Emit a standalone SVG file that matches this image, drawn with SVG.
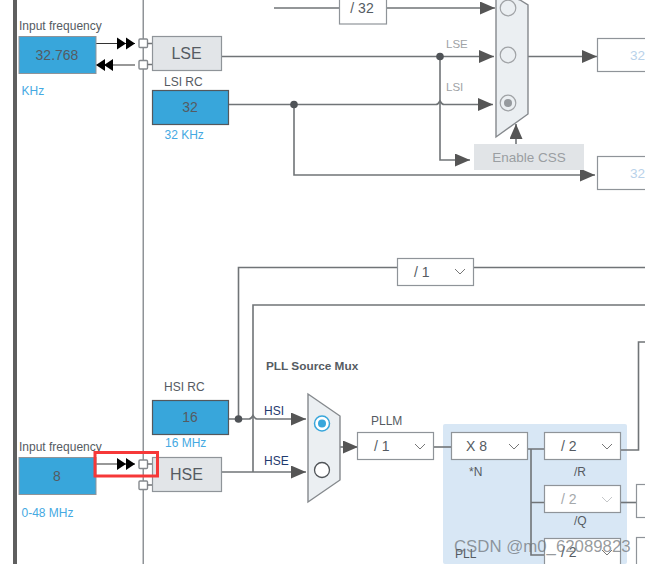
<svg xmlns="http://www.w3.org/2000/svg" width="645" height="564" viewBox="0 0 645 564">
<style>
text{font-family:"Liberation Sans",Arial,sans-serif;font-size:12px;fill:#555b62}
.m{text-anchor:middle}
.blue{fill:#38a6db;stroke:#8f9499;stroke-width:1}
.blued{fill:#38a6db;stroke:#54585c;stroke-width:1.2}
.gray{fill:#e2e5e8;stroke:#8f9499;stroke-width:1.2}
.box{fill:#fff;stroke:#8f9499;stroke-width:1.2}
.c{fill:none;stroke:#707477;stroke-width:1.6}
.k{fill:none;stroke:#333;stroke-width:1.1}
.pin{fill:#fff;stroke:#85898d;stroke-width:1.4}
.mux{fill:#ebeff2;stroke:#85898d;stroke-width:1.4}
.chev{fill:none;stroke:#777;stroke-width:1}
.lab{fill:#a0a3a6;font-size:11.5px}
.hz{fill:#45a9e2;font-size:12px}
.dot{fill:#4f5357}
.fade{fill:#b9d2ea;font-size:13.5px}
.val{font-size:14px}
.in{font-size:12px}
</style>
<defs>
<marker id="a" markerUnits="userSpaceOnUse" markerWidth="16" markerHeight="13" refX="15" refY="6.500" orient="auto"><path d="M0 0L15 6.500L0 13Z" fill="#555"/></marker>
</defs>
<rect width="645" height="564" fill="#fff"/>
<rect x="13" y="0" width="4" height="564" fill="#5f5f5f"/>
<rect x="142.500" y="0" width="1.500" height="564" fill="#8f9397"/>
<rect id="pll-bg" x="443" y="424" width="184" height="140" rx="2" fill="#d8e7f5"/>
<g id="connectors">
<path class="c" d="M274 8H339M387 8H495" marker-end="url(#a)"/>
<path class="c" d="M221 56.500H494" marker-end="url(#a)"/>
<path class="c" d="M228 104.500H436Q438 104.500 440 101Q442 104.500 444 104.500H493" marker-end="url(#a)"/>
<path class="c" d="M440 56.500V160H470" marker-end="url(#a)"/>
<path class="c" d="M294 104.500V175H595" marker-end="url(#a)"/>
<path class="c" d="M528 56.500H597" marker-end="url(#a)"/>
<path class="c" d="M516 144V124" marker-end="url(#a)"/>
<path class="c" d="M238.500 419V267.500H397M473 267.500H645"/>
<path class="c" d="M253 472V305H645"/>
<path class="c" d="M228 419H249Q251 419 253 415.500Q255 419 257 419H306" marker-end="url(#a)"/>
<path class="c" d="M221 472H306" marker-end="url(#a)"/>
<path class="c" d="M340 447H358" marker-end="url(#a)"/>
<path class="c" d="M433 447H451"/>
<path class="c" d="M528 449H544M531 449V555H544M531 502.500H544"/>
<path class="c" d="M621 450H638.500V342H645"/>
<path class="c" d="M621 502.500H636"/>
<circle class="dot" cx="440" cy="56.500" r="3.800"/>
<circle class="dot" cx="294" cy="104.500" r="3.800"/>
<circle class="dot" cx="238.500" cy="419" r="3.800"/>
<path class="k" d="M96 43.500H135"/><path d="M117 37.500L126 43.500L117 49.500ZM126 37.500L135 43.500L126 49.500Z" fill="#000"/>
<path class="k" d="M135 65H96"/><path d="M105 59L96 65L105 71ZM113 59L104 65L113 71Z" fill="#000"/>
<path class="k" d="M96 464H135"/><path d="M117 458L126 464L117 470ZM126 458L135 464L126 470Z" fill="#000"/>
</g>
<g id="lse-input"><text x="19" y="30" class="in">Input frequency</text><rect class="blue" x="19" y="36.500" width="77" height="37"/><text class="m val" x="57" y="60">32.768</text><text x="21.500" y="95" class="hz">KHz</text></g>
<g id="lse"><rect class="gray" x="152.500" y="36.500" width="69" height="34"/><text class="m" x="186.500" y="59" style="font-size:16px">LSE</text></g>
<rect class="pin" x="139" y="39" width="8.500" height="8.500" rx="1"/><rect class="pin" x="139" y="60.500" width="8.500" height="8.500" rx="1"/>
<path class="c" d="M147.500 43.500H152M147.500 64.500H152"/>
<g id="lsi"><text x="164" y="86">LSI RC</text><rect class="blued" x="152.500" y="90.500" width="76" height="34"/><text class="m val" x="190" y="112">32</text><text x="164.500" y="139" class="hz">32 KHz</text></g>
<g id="div32"><rect class="box" x="339.500" y="-1" width="47" height="25"/><text class="m val" x="362" y="13">/ 32</text></g>
<text class="lab" x="446" y="48">LSE</text><text class="lab" x="446" y="91">LSI</text>
<g id="rtc-mux"><path class="mux" d="M496 -8L520 0L528 5V114L496 137Z"/><circle cx="508" cy="8" r="7.800" fill="none" stroke="#a0a3a6" stroke-width="1.200"/><circle cx="508" cy="55" r="7.800" fill="none" stroke="#a0a3a6" stroke-width="1.200"/><circle cx="508" cy="103" r="7.800" fill="none" stroke="#a0a3a6" stroke-width="1.200"/><circle cx="508" cy="103" r="4" fill="#969a9e"/></g>
<g id="css"><rect x="474" y="144" width="110" height="26" fill="#e1e4e7"/><text class="m" x="529" y="162" style="fill:#9a9ea2;font-size:13.500px">Enable CSS</text></g>
<g id="out1"><rect class="box" x="597.500" y="38.500" width="50" height="33"/><text class="fade" x="630" y="60">32</text></g>
<g id="out2"><rect class="box" x="597.500" y="156.500" width="50" height="33"/><text class="fade" x="630" y="178">32</text></g>
<g id="div1"><rect class="box" x="397.500" y="258.500" width="76" height="27"/><text x="414" y="277" class="val">/ 1</text><path class="chev" d="M455 269L460 274L465 269"/></g>
<g id="hsi"><text x="164" y="391">HSI RC</text><rect class="blued" x="152.500" y="400.500" width="76" height="34"/><text class="m val" x="190" y="422">16</text><text x="165" y="447" class="hz">16 MHz</text></g>
<g id="hse-input"><text x="19" y="451" class="in">Input frequency</text><rect class="blue" x="19" y="457.500" width="77" height="37"/><text class="m val" x="57" y="481">8</text><text x="21.500" y="517" class="hz">0-48 MHz</text></g>
<g id="hse"><rect class="gray" x="152.500" y="457.500" width="69" height="34"/><text class="m" x="186.500" y="480" style="font-size:16px">HSE</text></g>
<rect class="pin" x="139" y="460" width="8.500" height="8.500" rx="1"/><rect class="pin" x="139" y="481" width="8.500" height="8.500" rx="1"/>
<path class="c" d="M147.500 464H152M147.500 485H152"/>
<text x="266" y="370" style="font-size:11.800px;font-weight:bold">PLL Source Mux</text>
<text x="264" y="415" style="fill:#1f3a6e">HSI</text><text x="264" y="465" style="fill:#1f3a6e">HSE</text>
<g id="pll-mux"><path class="mux" d="M308 394L340 416V480L308 502Z"/><circle cx="322" cy="423.500" r="7.500" fill="#fff" stroke="#38a6db" stroke-width="1.500"/><circle cx="322" cy="423.500" r="4" fill="#38a6db"/><circle cx="322" cy="470" r="7.500" fill="#fff" stroke="#4f5357" stroke-width="1.300"/></g>
<g id="pllm"><text x="371" y="425">PLLM</text><rect class="box" x="357.500" y="432.500" width="76" height="27"/><text x="374" y="451" class="val">/ 1</text><path class="chev" d="M415 444L420 449L425 444"/></g>
<g id="muln"><rect class="box" x="451.500" y="432.500" width="76" height="27"/><text x="466" y="451" class="val">X 8</text><path class="chev" d="M509 444L514 449L519 444"/><text x="469" y="476">*N</text></g>
<g id="divr"><rect class="box" x="544.500" y="432.500" width="76" height="27"/><text x="561" y="451" class="val">/ 2</text><path class="chev" d="M602 444L607 449L612 444"/><text x="574" y="476">/R</text></g>
<g id="divq"><rect class="box" x="544.500" y="485.500" width="76" height="27"/><text x="561" y="504" class="val" style="fill:#a5a8ab">/ 2</text><path class="chev" style="stroke:#c5c7c9" d="M602 497L607 502L612 497"/><text x="574" y="525">/Q</text></g>
<g id="divp"><rect class="box" x="544.500" y="538.500" width="76" height="27"/><text x="561" y="557" class="val">/ 2</text><path class="chev" d="M602 550L607 555L612 550"/></g>
<rect class="box" x="636.500" y="484.500" width="12" height="33"/><rect class="box" x="636.500" y="537.500" width="12" height="33"/>
<text x="455" y="558">PLL</text>
<rect id="highlight" x="95" y="452.500" width="62.500" height="23.500" fill="none" stroke="#f63838" stroke-width="3"/>
<text x="454" y="552" style="font-size:16.800px;fill:#6e7378;fill-opacity:.72">CSDN @m0_62089823</text>
</svg>
